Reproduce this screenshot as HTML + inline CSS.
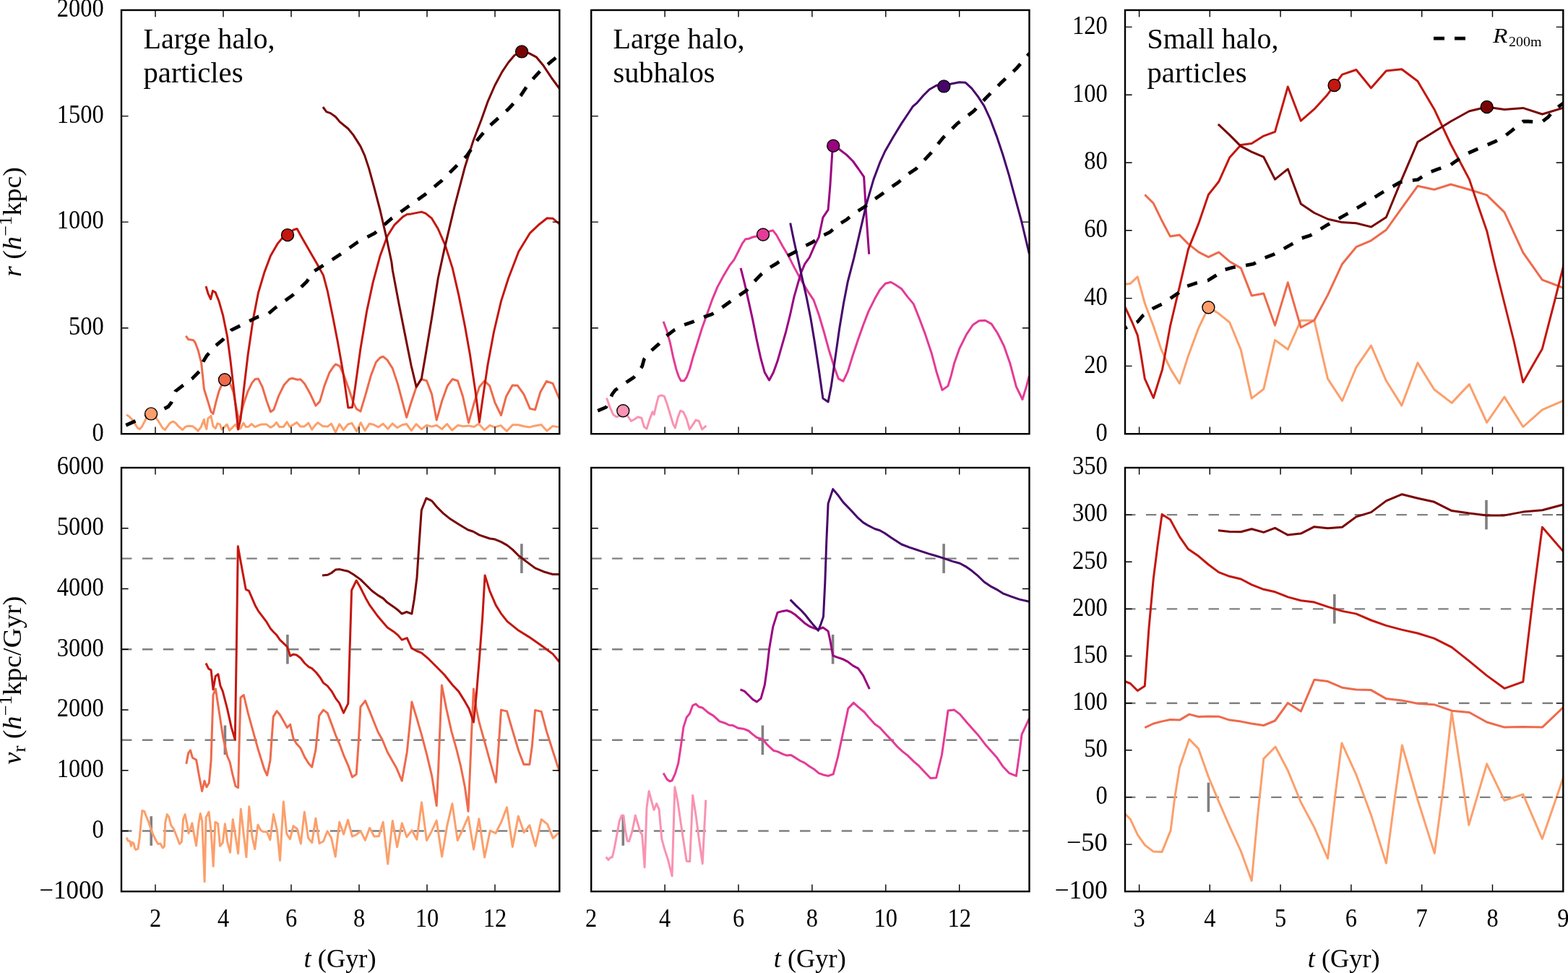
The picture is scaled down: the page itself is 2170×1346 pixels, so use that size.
<!DOCTYPE html><html><head><meta charset="utf-8"><title>orbits</title><style>html,body{margin:0;padding:0;background:#fff}svg{display:block}</style></head><body><svg width="2170" height="1346" viewBox="0 0 2170 1346">
<rect width="2170" height="1346" fill="#fff"/>
<clipPath id="c0"><rect x="168.0" y="14.0" width="606.3" height="586.2"/></clipPath>
<clipPath id="c1"><rect x="818.2" y="14.0" width="606.3" height="586.2"/></clipPath>
<clipPath id="c2"><rect x="1557.0" y="14.0" width="606.3" height="586.2"/></clipPath>
<clipPath id="c3"><rect x="168.0" y="647.0" width="606.3" height="586.2"/></clipPath>
<clipPath id="c4"><rect x="818.2" y="647.0" width="606.3" height="586.2"/></clipPath>
<clipPath id="c5"><rect x="1557.0" y="647.0" width="606.3" height="586.2"/></clipPath>
<path d="M168.0 1149.5H774.3" stroke="#808080" stroke-width="2.4" stroke-dasharray="14.44 14.44" fill="none"/>
<path d="M818.2 1149.5H1424.5" stroke="#808080" stroke-width="2.4" stroke-dasharray="14.44 14.44" fill="none"/>
<path d="M168.0 1023.8H774.3" stroke="#808080" stroke-width="2.4" stroke-dasharray="14.44 14.44" fill="none"/>
<path d="M818.2 1023.8H1424.5" stroke="#808080" stroke-width="2.4" stroke-dasharray="14.44 14.44" fill="none"/>
<path d="M168.0 898.2H774.3" stroke="#808080" stroke-width="2.4" stroke-dasharray="14.44 14.44" fill="none"/>
<path d="M818.2 898.2H1424.5" stroke="#808080" stroke-width="2.4" stroke-dasharray="14.44 14.44" fill="none"/>
<path d="M168.0 772.6H774.3" stroke="#808080" stroke-width="2.4" stroke-dasharray="14.44 14.44" fill="none"/>
<path d="M818.2 772.6H1424.5" stroke="#808080" stroke-width="2.4" stroke-dasharray="14.44 14.44" fill="none"/>
<path d="M1557.0 1102.9H2163.3" stroke="#808080" stroke-width="2.4" stroke-dasharray="14.44 14.44" fill="none"/>
<path d="M1557.0 972.7H2163.3" stroke="#808080" stroke-width="2.4" stroke-dasharray="14.44 14.44" fill="none"/>
<path d="M1557.0 842.4H2163.3" stroke="#808080" stroke-width="2.4" stroke-dasharray="14.44 14.44" fill="none"/>
<path d="M1557.0 712.1H2163.3" stroke="#808080" stroke-width="2.4" stroke-dasharray="14.44 14.44" fill="none"/>
<path d="M209.2 1129.2V1169.8" stroke="#808080" stroke-width="3.6" fill="none"/>
<path d="M311.4 1003.5V1044.1" stroke="#808080" stroke-width="3.6" fill="none"/>
<path d="M397.9 877.9V918.5" stroke="#808080" stroke-width="3.6" fill="none"/>
<path d="M721.9 752.3V792.9" stroke="#808080" stroke-width="3.6" fill="none"/>
<path d="M862.3 1129.2V1169.8" stroke="#808080" stroke-width="3.6" fill="none"/>
<path d="M1055.4 1003.5V1044.1" stroke="#808080" stroke-width="3.6" fill="none"/>
<path d="M1152.6 877.9V918.5" stroke="#808080" stroke-width="3.6" fill="none"/>
<path d="M1306.1 752.3V792.9" stroke="#808080" stroke-width="3.6" fill="none"/>
<path d="M1672.4 1082.6V1123.2" stroke="#808080" stroke-width="3.6" fill="none"/>
<path d="M1846.8 822.1V862.7" stroke="#808080" stroke-width="3.6" fill="none"/>
<path d="M2057.0 691.8V732.4" stroke="#808080" stroke-width="3.6" fill="none"/>
<path clip-path="url(#c0)" d="M174.9 573.7L178.7 576.1L182.8 580.2L187.0 586.5L190.4 592.0L193.5 593.6L196.2 590.6L200.1 583.0L203.5 576.8L209.1 572.4L215.3 576.8L219.4 583.0L225.0 592.0L228.4 594.7L231.2 590.6L235.3 585.1L239.5 583.0L242.9 585.1L247.1 589.9L252.6 594.5L256.8 590.3L260.9 589.2L266.5 589.6L270.6 592.7L274.1 596.1L278.2 590.6L282.4 580.2L283.3 586.5L285.8 593.6L287.9 578.8L292.0 575.4L294.8 589.2L298.2 592.7L301.0 585.8L304.5 587.1L306.8 594.1L310.7 590.6L314.1 587.1L317.6 595.4L321.1 592.0L325.9 587.1L329.4 593.4L332.8 592.7L337.0 585.1L340.4 590.6L343.9 590.3L348.0 586.5L352.9 590.6L359.1 587.8L363.2 586.9L368.8 587.1L374.3 591.3L378.4 589.2L382.6 584.4L386.7 590.6L392.3 590.6L397.1 583.7L401.2 590.6L405.4 587.8L410.9 584.4L415.8 589.9L421.3 589.9L426.8 585.1L431.7 594.1L436.5 587.8L440.0 584.7L446.3 589.4L453.3 590.1L458.5 586.2L464.3 598.0L469.8 586.7L475.3 594.8L481.5 587.0L487.0 585.4L493.6 596.7L499.2 584.7L505.0 595.6L511.3 586.2L516.8 587.3L523.8 590.9L530.1 586.2L536.8 593.3L543.1 585.9L549.7 591.7L556.7 587.8L562.5 586.5L569.3 595.6L576.0 586.7L583.4 593.6L590.4 588.3L597.5 590.1L604.2 588.3L611.6 593.6L618.6 586.5L625.7 595.2L633.5 588.3L641.3 589.8L648.4 588.9L655.9 590.5L662.5 586.2L670.3 594.8L677.8 588.3L684.4 590.9L693.0 588.6L701.3 596.4L709.5 587.8L717.3 587.8L725.2 589.8L733.0 590.9L740.8 588.9L749.0 587.5L756.8 596.1L765.1 589.4L772.9 590.9" fill="none" stroke="#fc9f6b" stroke-width="3.0" stroke-linejoin="round"/>
<path clip-path="url(#c0)" d="M257.3 464.7L260.7 469.6L267.3 470.4L270.1 473.8L274.4 485.3L278.7 502.5L282.4 538.2L287.3 553.9L292.1 569.7L295.0 572.5L298.7 556.8L303.0 541.1L307.3 531.1L311.0 525.3L318.7 531.1L323.0 542.5L327.3 565.4L331.0 582.5L337.3 558.2L343.1 541.1L348.8 529.6L353.1 524.5L357.4 523.9L363.1 535.3L368.8 553.9L374.5 569.7L378.8 566.8L386.0 546.8L393.1 532.5L400.3 524.5L404.6 523.3L411.7 525.3L416.0 524.8L421.7 531.1L428.9 543.9L436.9 561.1L442.6 555.4L448.9 533.9L456.0 515.3L461.8 506.7L464.6 503.9L470.3 506.7L476.1 519.6L483.2 539.6L488.9 556.8L493.2 565.4L498.9 569.1L506.1 545.4L513.3 519.6L520.4 501.0L526.1 494.7L530.4 493.3L536.1 498.2L543.3 509.6L550.4 531.1L557.6 558.2L562.7 577.4L569.0 556.8L576.2 535.3L583.3 524.5L590.5 526.8L597.6 545.4L604.2 581.1L611.9 553.9L619.1 533.9L626.2 524.5L633.4 526.8L640.5 548.2L648.5 584.8L656.3 556.8L663.4 535.3L670.6 526.8L677.7 533.9L684.9 556.8L693.5 574.5L700.6 548.2L709.2 533.1L716.3 533.3L724.9 545.4L733.5 565.4L740.6 566.8L747.8 542.5L756.4 527.3L765.0 530.5L774.4 552.5" fill="none" stroke="#ee6a4c" stroke-width="3.0" stroke-linejoin="round"/>
<path clip-path="url(#c0)" d="M285.0 396.0L287.9 405.8L291.6 413.8L294.4 402.3L298.2 404.6L303.0 416.6L308.7 436.7L314.5 465.3L318.7 496.7L323.0 533.9L326.8 568.2L329.6 594.0L333.0 579.7L337.3 539.6L343.1 491.0L350.2 442.4L357.4 405.2L365.9 376.6L374.5 353.7L384.5 336.6L393.1 326.5L398.0 325.1L406.0 318.0L411.1 316.5L417.4 328.0L428.9 348.0L438.9 365.2L447.5 380.9L453.2 402.3L460.3 436.7L467.5 473.8L474.6 513.9L481.8 563.9L487.5 563.4L491.8 533.9L498.9 482.4L507.5 430.9L516.1 390.9L526.1 353.7L536.1 326.5L546.1 310.8L557.6 299.9L563.3 296.5L569.0 295.9L583.3 293.1L589.0 295.1L597.6 302.2L606.2 316.5L616.2 339.4L626.2 370.9L634.8 408.1L643.4 451.0L650.5 491.0L657.7 539.6L663.4 584.0L667.7 553.9L674.9 505.3L683.4 459.5L693.5 416.6L703.5 385.2L717.8 348.0L733.5 322.3L746.4 310.2L757.2 301.7L765.0 302.2L774.4 310.2" fill="none" stroke="#c4170f" stroke-width="3.0" stroke-linejoin="round"/>
<path clip-path="url(#c0)" d="M446.9 148.0L451.8 154.6L457.5 156.6L464.6 161.7L470.3 168.6L481.8 178.0L488.9 186.6L498.9 202.4L504.7 215.2L510.4 232.4L517.5 258.1L526.1 291.0L534.7 328.2L541.9 362.5L543.3 373.7L551.9 419.5L560.4 462.4L569.0 505.3L576.2 535.3L583.3 523.9L589.0 491.0L597.6 439.5L606.2 385.2L614.8 345.4L629.1 285.3L643.4 231.0L654.8 195.2L666.3 165.2L674.9 140.9L684.9 118.0L694.9 99.4L703.5 86.5L712.0 76.5L722.1 71.4L732.1 73.6L742.1 78.8L752.1 90.8L763.5 108.0L774.4 122.8" fill="none" stroke="#7a0404" stroke-width="3.0" stroke-linejoin="round"/>
<path clip-path="url(#c0)" d="M174.3 588.3L187.2 582.5L209.2 572.5L227.2 565.4L232.9 562.5L237.2 556.8L242.9 541.1L253.0 533.3L265.8 523.9L275.8 513.9L281.6 499.6L285.9 492.4L298.7 478.1L308.7 469.6L320.2 456.7L331.6 451.0L357.4 438.1L371.7 433.8L381.7 425.2L405.4 408.1L416.0 398.0L424.6 389.5L434.6 375.2L446.0 368.0L470.3 352.3L494.7 335.1L519.0 322.3L541.9 302.2L564.7 285.9L589.0 268.5L611.9 249.3L632.0 229.3L646.3 215.2L660.6 193.8L674.9 176.6L703.5 150.9L720.6 132.3L732.1 115.1L749.2 96.5L769.2 79.9" fill="none" stroke="#000" stroke-width="4.8" stroke-linejoin="round" stroke-dasharray="14.5 14.5" stroke-dashoffset="0"/>
<path clip-path="url(#c1)" d="M839.5 550.5L844.3 563.9L848.6 573.4L852.9 576.8L857.2 575.4L862.3 567.4L868.6 575.4L873.5 582.5L878.6 579.7L882.9 576.8L887.8 578.3L891.5 590.5L895.0 593.1L899.2 579.7L903.0 569.7L905.2 573.4L908.7 558.2L911.5 548.2L915.3 546.8L919.3 548.2L923.0 558.2L927.3 572.5L931.6 586.8L934.4 592.0L937.9 578.3L941.6 568.2L945.9 570.2L950.2 579.7L954.4 594.0L958.7 587.7L963.0 581.1L967.3 582.5L971.6 594.0L977.3 588.8" fill="none" stroke="#f993b2" stroke-width="3.0" stroke-linejoin="round"/>
<path clip-path="url(#c1)" d="M918.1 444.7L923.0 458.1L927.3 473.8L931.6 493.9L935.9 511.0L939.3 521.0L942.4 526.8L946.7 526.8L950.2 521.9L954.4 511.0L958.7 495.3L964.5 476.7L971.6 453.8L978.8 433.8L985.9 413.8L993.1 396.6L1001.6 380.9L1010.2 366.6L1015.9 359.4L1021.7 348.0L1027.4 336.6L1031.7 330.8L1036.0 330.3L1041.7 328.0L1048.8 326.5L1056.0 324.5L1064.6 320.0L1069.7 318.8L1074.6 325.1L1083.2 340.8L1091.7 355.1L1098.9 369.4L1107.5 385.2L1117.5 402.3L1126.1 415.2L1133.2 435.2L1140.4 459.5L1147.5 485.3L1154.7 508.2L1160.4 523.9L1167.0 527.3L1173.3 513.9L1180.4 491.0L1187.6 469.6L1194.7 449.5L1201.9 430.9L1210.4 413.8L1217.6 400.9L1225.3 392.3L1232.8 390.3L1239.0 393.8L1247.6 399.5L1256.2 410.9L1264.2 420.4L1271.9 439.5L1280.5 462.4L1289.1 488.2L1296.3 515.3L1304.0 539.6L1312.0 533.9L1316.3 519.6L1320.6 502.5L1327.7 482.4L1337.7 462.4L1346.3 449.5L1354.9 443.8L1363.5 443.2L1372.1 448.1L1380.6 461.0L1389.2 478.1L1397.8 502.5L1406.4 534.8L1415.0 552.5L1420.7 533.9L1424.4 519.6" fill="none" stroke="#e43b97" stroke-width="3.0" stroke-linejoin="round"/>
<path clip-path="url(#c1)" d="M1025.1 370.9L1030.2 390.9L1036.0 416.6L1041.7 442.4L1047.4 471.0L1053.1 496.7L1058.3 515.3L1064.6 525.9L1070.3 515.3L1076.0 499.6L1081.7 479.6L1087.5 459.5L1093.2 436.7L1098.9 410.9L1104.6 390.9L1108.9 376.6L1113.8 365.2L1120.3 356.0L1127.5 339.4L1133.2 328.0L1138.9 300.8L1146.1 290.2L1148.9 256.5L1151.8 210.9L1153.2 201.8L1161.8 206.7L1171.8 214.4L1180.4 223.0L1187.6 233.0L1195.6 244.7L1196.7 262.4L1198.4 291.0L1200.4 319.6L1202.7 351.7" fill="none" stroke="#9b027f" stroke-width="3.0" stroke-linejoin="round"/>
<path clip-path="url(#c1)" d="M1093.7 308.5L1098.9 333.7L1104.6 359.4L1110.3 385.2L1116.1 410.9L1121.8 439.5L1127.5 473.8L1133.2 511.0L1138.9 551.1L1146.1 555.9L1150.4 533.9L1156.1 493.9L1161.8 453.8L1167.5 419.5L1173.3 389.5L1181.8 356.8L1190.4 319.6L1199.0 282.5L1209.0 248.1L1217.6 225.2L1224.7 209.5L1236.2 189.5L1247.6 170.9L1256.2 158.0L1263.4 147.2L1269.1 142.3L1277.7 132.3L1286.2 123.7L1296.3 118.0L1306.3 119.4L1316.3 116.0L1327.7 113.7L1336.3 114.3L1344.9 122.3L1353.5 133.7L1362.0 146.6L1370.6 165.2L1379.2 188.1L1387.8 213.8L1396.4 242.4L1404.9 273.9L1413.5 305.3L1424.4 351.1" fill="none" stroke="#47056b" stroke-width="3.0" stroke-linejoin="round"/>
<path clip-path="url(#c1)" d="M827.2 568.2L838.6 563.4L843.8 553.9L847.2 545.4L851.5 539.6L865.8 529.6L877.2 521.9L884.9 512.5L888.7 506.7L891.5 496.7L901.0 485.3L911.5 476.1L922.4 464.7L933.0 456.7L946.7 449.5L958.7 445.2L973.0 439.0L985.1 434.7L997.4 426.7L1007.4 419.5L1021.7 409.5L1032.5 402.3L1043.1 390.3L1052.6 380.3L1064.0 370.9L1074.6 364.6L1087.5 355.1L1098.9 349.4L1113.2 340.8L1124.6 335.1L1137.5 326.5L1148.9 320.8L1160.4 310.8L1171.8 303.7L1184.7 293.6L1196.1 286.5L1209.0 276.5L1220.5 268.5L1232.8 259.3L1243.3 252.2L1254.8 242.2L1267.7 233.6L1287.7 212.4L1304.8 190.9L1324.9 170.9L1347.7 153.7L1364.9 135.1L1384.9 115.1L1406.4 95.1L1425.0 73.6" fill="none" stroke="#000" stroke-width="4.8" stroke-linejoin="round" stroke-dasharray="14.5 14.5" stroke-dashoffset="0"/>
<path clip-path="url(#c2)" d="M1557.2 393.2L1564.3 392.3L1574.3 382.9L1584.3 419.5L1596.3 451.0L1607.2 483.9L1619.5 509.6L1632.4 530.5L1644.4 492.4L1658.7 453.8L1672.4 425.2L1686.7 433.8L1701.6 445.8L1717.3 483.9L1732.2 551.1L1748.8 538.2L1764.5 470.4L1782.3 483.3L1800.3 443.2L1818.9 443.2L1837.5 523.9L1857.5 554.5L1876.9 508.2L1897.5 478.1L1918.4 526.8L1939.9 561.1L1961.9 501.9L1984.8 538.8L2009.1 557.4L2033.4 531.6L2057.7 584.5L2082.0 549.1L2107.8 590.5L2134.4 566.8L2164.4 553.9" fill="none" stroke="#fc9f6b" stroke-width="3.0" stroke-linejoin="round"/>
<path clip-path="url(#c2)" d="M1584.3 269.3L1596.3 281.3L1607.2 303.7L1619.5 327.1L1632.4 325.1L1644.4 337.4L1658.7 348.6L1672.4 355.7L1686.7 348.9L1701.6 361.7L1717.3 370.9L1732.2 408.9L1748.8 406.1L1764.5 450.1L1782.3 390.9L1800.3 453.0L1818.9 443.0L1837.5 408.1L1857.5 365.2L1876.9 341.7L1897.5 332.8L1918.4 318.0L1939.9 287.9L1961.9 257.3L1984.8 262.2L2007.7 255.0L2033.4 262.2L2057.7 269.9L2082.0 293.6L2107.8 349.4L2134.4 387.2L2164.4 398.6" fill="none" stroke="#ee6a4c" stroke-width="3.0" stroke-linejoin="round"/>
<path clip-path="url(#c2)" d="M1557.2 425.2L1567.2 446.7L1574.3 463.8L1578.6 488.2L1584.3 523.9L1596.3 550.5L1608.6 511.0L1619.5 451.0L1632.4 396.6L1644.4 345.1L1658.7 309.4L1672.4 269.3L1686.7 251.3L1701.6 218.1L1717.3 200.4L1732.2 198.6L1748.8 188.1L1764.5 182.3L1782.3 120.0L1800.3 167.2L1818.9 150.9L1836.0 132.3L1846.6 118.0L1857.5 103.1L1876.9 96.5L1897.5 121.7L1918.4 98.0L1939.9 95.7L1961.9 112.3L1984.8 150.9L2007.7 199.5L2033.4 248.1L2046.3 286.5L2057.7 319.4L2069.1 368.0L2082.0 419.5L2094.9 471.0L2107.8 528.8L2134.4 482.4L2150.7 419.5L2164.4 365.2" fill="none" stroke="#c4170f" stroke-width="3.0" stroke-linejoin="round"/>
<path clip-path="url(#c2)" d="M1685.9 171.8L1701.6 186.6L1717.3 202.4L1732.2 210.1L1748.8 217.2L1764.5 248.1L1782.3 233.8L1800.3 281.9L1818.9 294.5L1837.5 303.0L1857.5 307.6L1876.9 308.8L1897.5 313.9L1918.4 300.5L1939.9 248.1L1961.9 196.6L1984.8 182.3L2007.7 168.0L2033.4 153.7L2057.7 148.0L2082.0 151.4L2107.8 149.4L2134.4 158.0L2164.4 148.9" fill="none" stroke="#7a0404" stroke-width="3.0" stroke-linejoin="round"/>
<path clip-path="url(#c2)" d="M1557.2 453.8L1574.3 445.2L1581.5 436.7L1595.8 426.7L1608.6 420.4L1630.1 405.8L1643.0 395.8L1655.8 391.5L1671.6 388.0L1683.0 380.9L1694.4 373.2L1705.9 370.0L1718.8 368.0L1734.5 365.2L1750.2 356.6L1763.1 351.7L1787.4 338.0L1801.7 329.4L1813.2 325.7L1837.5 310.8L1863.2 296.5L1887.5 282.2L1911.8 267.0L1937.6 252.2L1950.4 249.9L1961.9 248.7L1976.2 239.3L1989.1 234.2L2007.7 227.9L2013.4 223.9L2030.5 212.4L2043.4 206.7L2069.1 195.8L2082.0 188.6L2092.0 180.9L2107.8 168.0L2114.9 168.0L2133.5 168.9L2142.1 162.3L2152.1 150.9L2164.4 142.3" fill="none" stroke="#000" stroke-width="4.8" stroke-linejoin="round" stroke-dasharray="14.5 14.5" stroke-dashoffset="11.5"/>
<path clip-path="url(#c3)" d="M175.2 1158.6L177.0 1163.0L179.9 1163.7L181.4 1170.4L182.9 1165.2L185.1 1166.7L186.5 1173.3L188.0 1175.5L191.0 1174.1L193.2 1159.3L195.4 1134.2L196.9 1121.3L199.8 1122.4L202.0 1128.3L205.7 1137.2L209.4 1148.2L212.4 1155.6L216.0 1163.0L218.7 1167.4L221.9 1167.1L225.3 1173.0L227.5 1170.8L228.6 1138.7L231.2 1126.6L233.7 1129.8L236.7 1141.6L240.4 1146.8L244.8 1157.8L248.5 1167.4L251.4 1164.5L253.6 1132.8L256.1 1126.6L258.8 1140.1L261.0 1152.7L263.2 1147.5L265.9 1138.7L268.4 1153.4L271.6 1169.9L275.0 1138.7L277.2 1125.4L279.7 1135.7L281.2 1172.6L283.1 1219.8L285.1 1130.6L289.0 1123.2L292.0 1149.0L295.2 1198.4L297.9 1137.2L301.6 1139.4L304.5 1170.4L308.2 1165.9L311.4 1139.8L314.8 1165.2L318.5 1179.2L322.2 1133.5L325.9 1156.4L329.6 1180.7L333.3 1119.2L337.0 1151.9L340.9 1185.6L344.8 1115.8L348.8 1156.4L352.7 1174.5L356.9 1140.9L360.6 1148.2L364.2 1150.5L369.4 1150.8L373.8 1161.8L378.5 1126.6L383.4 1148.2L387.5 1190.3L392.3 1108.9L396.7 1153.4L401.4 1160.8L406.0 1142.6L411.4 1146.8L416.3 1167.1L421.3 1123.2L426.6 1159.3L431.8 1165.6L436.9 1132.0L442.0 1166.7L447.6 1163.7L453.0 1149.7L458.6 1159.3L464.2 1185.1L469.7 1137.2L475.6 1154.1L481.5 1134.2L487.4 1157.1L492.9 1154.9L499.1 1149.7L505.4 1162.3L511.6 1145.3L517.9 1157.1L524.3 1156.7L530.2 1137.2L536.7 1195.0L543.3 1135.4L549.6 1171.8L556.3 1138.7L562.9 1157.8L570.0 1148.7L576.9 1161.2L583.5 1109.9L590.5 1162.6L597.1 1150.5L604.2 1135.0L611.6 1185.1L618.9 1141.6L625.9 1111.8L633.2 1162.6L640.6 1146.8L648.0 1129.8L655.5 1175.1L662.9 1132.8L670.6 1185.9L678.4 1149.0L686.0 1152.7L693.7 1137.2L701.5 1116.8L709.3 1171.4L717.3 1129.1L725.1 1151.6L732.9 1141.6L741.0 1170.4L749.2 1133.5L757.6 1140.1L765.4 1159.6L773.5 1151.9" fill="none" stroke="#fc9f6b" stroke-width="3.0" stroke-linejoin="round"/>
<path clip-path="url(#c3)" d="M257.8 1056.8L260.7 1041.6L263.5 1037.9L266.4 1048.2L271.6 1051.1L275.8 1074.5L279.6 1094.5L283.0 1080.2L285.9 1088.8L289.3 1083.1L292.1 1051.6L295.0 961.5L298.4 953.0L303.0 983.0L308.7 1020.2L314.5 1045.9L318.2 1054.5L321.6 1070.2L325.9 1087.4L329.6 1089.7L331.0 1031.6L333.0 965.0L337.3 961.5L343.1 985.9L350.2 1011.6L357.4 1037.3L365.9 1064.5L369.7 1072.5L374.0 1051.6L378.2 991.6L383.1 983.6L387.4 988.7L393.1 998.7L397.4 1006.4L401.7 1002.2L406.0 1021.6L410.3 1028.8L416.0 1035.1L421.7 1047.4L427.4 1056.5L431.7 1061.1L436.9 1037.3L441.7 990.1L447.5 982.1L453.2 986.4L458.9 1001.6L464.6 1017.3L470.3 1030.2L476.1 1045.9L481.8 1058.8L487.5 1075.1L493.2 1071.1L496.1 1028.8L498.9 977.8L505.5 969.3L511.8 984.4L517.5 998.7L523.3 1013.0L529.0 1023.0L536.1 1040.2L543.3 1053.1L549.0 1063.1L556.2 1080.2L563.3 1040.2L567.6 997.3L569.9 971.0L576.2 991.6L583.3 1015.9L590.5 1043.1L597.6 1073.1L604.2 1114.6L606.8 1060.2L609.1 1003.0L611.4 948.1L617.7 980.1L624.8 1011.6L632.0 1037.3L637.7 1060.2L643.4 1088.8L648.0 1122.3L650.5 1065.9L653.1 1003.0L655.4 953.0L659.1 980.1L663.4 1000.2L670.6 1025.9L677.7 1051.6L686.3 1082.2L689.7 1037.3L693.5 982.1L701.5 983.9L709.2 1010.2L717.8 1038.8L724.9 1057.4L732.9 1057.4L736.4 1031.6L740.6 982.4L749.2 984.4L756.4 1011.6L765.0 1038.8L774.4 1067.9" fill="none" stroke="#ee6a4c" stroke-width="3.0" stroke-linejoin="round"/>
<path clip-path="url(#c3)" d="M285.0 917.5L288.7 925.2L292.1 926.9L295.0 953.8L298.2 935.5L301.9 932.6L305.0 948.9L308.2 956.1L314.5 980.4L320.2 1006.1L325.3 1023.3L327.3 897.4L329.3 755.8L334.5 784.4L340.2 815.3L344.5 817.3L353.1 837.4L357.4 845.1L368.8 860.2L374.5 869.7L378.8 874.5L383.1 878.8L387.4 885.1L397.4 894.6L401.7 907.4L406.0 905.2L410.3 906.0L416.0 910.3L421.7 917.5L427.4 922.6L431.7 924.6L437.5 930.3L443.2 937.5L447.5 944.6L453.2 948.9L458.9 956.1L464.6 966.1L469.5 972.4L475.5 986.1L481.8 973.2L484.1 897.4L486.6 816.5L493.2 803.0L498.9 813.0L506.1 827.4L511.8 837.4L523.3 853.1L536.1 868.0L544.7 873.7L550.4 878.3L556.2 885.1L563.3 882.6L569.6 896.6L576.2 900.3L583.3 903.2L591.9 910.3L603.4 921.7L614.8 933.2L626.2 947.5L634.8 956.6L643.4 970.4L649.1 980.4L655.4 999.0L659.1 963.2L663.4 911.7L667.7 854.5L671.1 795.9L677.7 817.3L686.3 837.4L693.5 848.8L702.0 859.7L717.8 872.3L732.1 881.1L749.2 893.1L765.0 904.6L774.4 916.0" fill="none" stroke="#c4170f" stroke-width="3.0" stroke-linejoin="round"/>
<path clip-path="url(#c3)" d="M446.0 795.9L453.2 795.3L458.9 792.5L464.6 787.9L470.3 787.6L476.1 789.0L481.8 790.2L488.9 794.5L498.9 801.6L506.1 808.8L514.7 817.3L523.3 823.6L530.4 827.9L536.1 833.6L544.7 839.4L550.4 843.7L556.2 849.1L562.7 846.5L569.9 849.1L573.3 828.8L577.0 798.7L579.9 754.4L583.3 705.8L589.9 689.2L597.6 692.9L604.8 701.5L613.4 710.1L623.4 718.1L634.8 725.2L647.7 733.0L654.8 735.2L663.4 740.1L677.7 745.0L684.9 746.1L693.5 749.6L702.0 754.4L709.2 760.1L717.8 768.7L727.8 776.4L740.6 785.9L752.1 790.7L765.0 794.5L774.4 794.5" fill="none" stroke="#7a0404" stroke-width="3.0" stroke-linejoin="round"/>
<path clip-path="url(#c4)" d="M838.6 1185.5L842.0 1189.5L844.9 1186.1L847.2 1186.1L850.0 1174.6L853.5 1156.0L857.2 1136.0L860.1 1128.3L862.9 1128.0L865.2 1147.5L868.1 1163.2L870.6 1163.8L874.4 1151.8L877.2 1138.9L879.2 1128.0L882.9 1140.3L885.8 1150.3L888.7 1154.6L892.1 1199.8L895.0 1117.4L898.1 1094.5L901.5 1107.4L905.0 1120.3L908.7 1111.7L912.1 1119.7L915.8 1160.3L920.1 1176.1L924.4 1188.9L930.1 1211.8L933.9 1088.8L937.9 1108.8L941.6 1134.6L945.9 1163.2L950.2 1191.2L954.7 1191.8L958.7 1100.3L963.0 1127.4L967.3 1160.3L972.2 1194.7L976.8 1106.6" fill="none" stroke="#f993b2" stroke-width="3.0" stroke-linejoin="round"/>
<path clip-path="url(#c4)" d="M918.1 1069.4L923.0 1078.0L926.7 1080.8L930.1 1079.7L934.4 1070.2L938.7 1055.9L942.4 1031.6L945.9 1005.9L950.2 992.4L954.4 987.3L958.7 975.8L963.0 973.8L967.3 977.8L972.5 979.3L980.2 985.9L987.3 990.1L995.9 997.9L1003.1 1000.2L1008.8 1003.0L1014.5 1003.6L1021.7 1007.3L1028.8 1008.2L1036.0 1011.0L1041.7 1015.9L1047.4 1020.2L1056.0 1023.0L1061.7 1030.2L1070.3 1038.2L1076.0 1039.6L1083.2 1043.1L1088.9 1045.1L1094.6 1044.5L1100.3 1047.9L1107.5 1052.5L1113.2 1055.1L1120.3 1060.2L1126.1 1063.7L1133.2 1069.7L1138.9 1071.7L1146.1 1073.4L1153.2 1070.8L1159.5 1047.4L1164.7 1023.0L1169.0 1003.0L1173.8 980.1L1181.3 972.1L1187.6 977.8L1196.1 985.0L1203.3 993.6L1210.4 1001.6L1217.6 1006.4L1226.2 1015.9L1234.8 1025.0L1241.9 1033.0L1249.1 1039.6L1256.2 1045.1L1264.8 1053.6L1271.9 1059.7L1279.1 1067.4L1287.7 1076.5L1295.7 1076.0L1303.4 1044.5L1307.7 1014.5L1312.0 983.0L1320.6 982.1L1328.3 987.9L1339.2 1000.7L1353.5 1016.7L1364.9 1031.6L1379.2 1047.4L1387.8 1060.2L1396.9 1069.7L1406.4 1073.4L1410.7 1043.1L1414.1 1015.9L1424.4 993.9" fill="none" stroke="#e43b97" stroke-width="3.0" stroke-linejoin="round"/>
<path clip-path="url(#c4)" d="M1024.5 953.8L1030.2 956.1L1036.0 961.8L1041.7 967.5L1047.4 970.9L1053.1 966.1L1058.3 947.5L1061.7 923.2L1064.6 897.4L1069.7 867.4L1076.0 847.4L1083.2 845.4L1088.9 844.5L1094.6 846.5L1100.3 850.2L1107.5 856.5L1113.2 861.7L1120.3 866.5L1126.1 868.8L1131.8 870.8L1138.9 868.0L1146.1 873.1L1148.9 886.0L1152.7 906.9L1157.5 908.9L1166.1 911.7L1173.3 915.4L1180.4 920.9L1187.6 924.6L1194.7 934.6L1203.3 953.2" fill="none" stroke="#9b027f" stroke-width="3.0" stroke-linejoin="round"/>
<path clip-path="url(#c4)" d="M1093.7 829.6L1101.8 837.9L1108.9 844.5L1114.6 850.8L1120.3 858.0L1126.1 865.1L1132.4 872.3L1136.1 863.1L1139.5 853.1L1141.8 805.9L1143.8 748.7L1146.1 696.6L1152.7 676.6L1160.4 685.8L1167.0 694.9L1177.6 705.8L1187.6 716.7L1194.7 722.9L1201.9 727.2L1210.4 731.5L1217.6 733.8L1224.7 737.8L1233.3 743.8L1247.6 753.0L1259.1 757.3L1273.4 762.1L1284.8 765.9L1296.3 769.3L1306.3 772.4L1317.7 776.4L1328.3 779.3L1336.3 783.6L1344.9 789.6L1353.5 796.7L1362.0 805.0L1370.6 810.8L1379.2 815.3L1387.8 820.8L1399.2 825.1L1410.7 829.1L1424.4 832.2" fill="none" stroke="#47056b" stroke-width="3.0" stroke-linejoin="round"/>
<path clip-path="url(#c5)" d="M1557.2 1126.0L1564.3 1133.2L1574.3 1154.6L1584.3 1168.9L1596.3 1178.1L1608.1 1178.4L1620.1 1148.9L1625.8 1103.1L1632.4 1061.7L1645.8 1022.5L1658.7 1035.9L1672.4 1074.5L1686.7 1108.8L1701.6 1143.2L1717.3 1177.5L1732.2 1218.4L1740.2 1131.7L1748.8 1049.6L1765.1 1033.0L1782.3 1065.9L1800.3 1109.7L1818.9 1144.6L1837.5 1187.5L1847.5 1103.1L1856.9 1027.9L1876.9 1071.7L1897.5 1127.4L1918.4 1194.1L1930.4 1103.1L1940.4 1031.0L1961.9 1106.0L1985.3 1180.4L1997.6 1088.8L2009.1 985.3L2022.0 1068.8L2032.8 1141.2L2057.7 1056.8L2082.0 1107.4L2107.8 1098.8L2134.4 1160.3L2164.4 1073.1" fill="none" stroke="#fc9f6b" stroke-width="3.0" stroke-linejoin="round"/>
<path clip-path="url(#c5)" d="M1584.3 1006.7L1596.3 1001.0L1607.2 998.1L1619.5 995.5L1632.4 996.1L1645.8 988.1L1658.7 991.5L1672.4 991.0L1686.7 991.2L1701.6 996.1L1717.3 998.1L1732.2 1001.0L1748.8 1003.5L1764.5 997.0L1782.3 972.4L1800.3 984.1L1818.9 940.3L1837.5 942.6L1857.5 951.2L1876.9 954.1L1897.5 954.6L1918.4 966.6L1939.9 968.9L1961.9 973.2L1984.8 974.7L2009.1 983.2L2033.4 985.5L2057.7 999.0L2082.0 1006.1L2107.8 1005.5L2134.4 1006.1L2164.4 977.5" fill="none" stroke="#ee6a4c" stroke-width="3.0" stroke-linejoin="round"/>
<path clip-path="url(#c5)" d="M1557.2 942.6L1564.3 945.5L1574.3 955.5L1584.3 948.9L1590.0 868.8L1596.3 800.2L1602.1 754.4L1608.1 711.5L1619.5 718.7L1632.4 742.4L1644.4 759.6L1658.7 769.3L1672.4 781.0L1686.7 791.6L1701.6 797.3L1717.3 801.0L1732.2 808.8L1748.8 815.3L1764.5 818.8L1782.3 825.9L1800.3 830.8L1818.9 833.1L1837.5 839.4L1857.5 845.4L1876.9 849.1L1897.5 858.0L1918.4 865.4L1939.9 871.1L1961.9 876.0L1984.8 883.1L2009.1 895.4L2033.4 914.6L2057.7 934.6L2082.0 952.3L2107.8 943.2L2114.9 883.1L2122.1 823.1L2129.2 768.7L2134.4 729.2L2164.4 763.9" fill="none" stroke="#c4170f" stroke-width="3.0" stroke-linejoin="round"/>
<path clip-path="url(#c5)" d="M1685.9 733.8L1701.6 735.5L1717.3 735.8L1732.2 731.8L1748.8 736.4L1764.5 730.4L1782.3 740.1L1800.3 738.1L1818.9 728.7L1837.5 730.7L1857.5 729.2L1876.9 714.9L1897.5 708.6L1918.4 692.9L1939.9 683.8L1961.9 689.2L1984.8 694.3L2009.1 706.6L2033.4 710.1L2057.7 712.9L2082.0 712.9L2107.8 708.1L2134.4 705.8L2164.4 697.8" fill="none" stroke="#7a0404" stroke-width="3.0" stroke-linejoin="round"/>
<circle cx="209.1" cy="572.4" r="8.5" fill="#fc9f6b" stroke="#000" stroke-width="1.4"/>
<circle cx="311.0" cy="525.3" r="8.5" fill="#ee6a4c" stroke="#000" stroke-width="1.4"/>
<circle cx="398.0" cy="325.1" r="8.5" fill="#c4170f" stroke="#000" stroke-width="1.4"/>
<circle cx="722.1" cy="71.4" r="8.5" fill="#7a0404" stroke="#000" stroke-width="1.4"/>
<circle cx="862.3" cy="568.2" r="8.5" fill="#f993b2" stroke="#000" stroke-width="1.4"/>
<circle cx="1056.0" cy="324.5" r="8.5" fill="#e43b97" stroke="#000" stroke-width="1.4"/>
<circle cx="1153.2" cy="201.8" r="8.5" fill="#9b027f" stroke="#000" stroke-width="1.4"/>
<circle cx="1306.3" cy="119.4" r="8.5" fill="#47056b" stroke="#000" stroke-width="1.4"/>
<circle cx="1672.4" cy="425.2" r="8.5" fill="#fc9f6b" stroke="#000" stroke-width="1.4"/>
<circle cx="1846.6" cy="118.0" r="8.5" fill="#c4170f" stroke="#000" stroke-width="1.4"/>
<circle cx="2057.7" cy="148.0" r="8.5" fill="#7a0404" stroke="#000" stroke-width="1.4"/>
<path d="M215.0 600.2v-9.6M215.0 14.0v9.6M309.0 600.2v-9.6M309.0 14.0v9.6M403.0 600.2v-9.6M403.0 14.0v9.6M497.0 600.2v-9.6M497.0 14.0v9.6M591.0 600.2v-9.6M591.0 14.0v9.6M685.0 600.2v-9.6M685.0 14.0v9.6M168.0 453.7h9.6M774.3 453.7h-9.6M168.0 307.1h9.6M774.3 307.1h-9.6M168.0 160.6h9.6M774.3 160.6h-9.6" stroke="#000" stroke-width="1.4" fill="none"/>
<rect x="168.0" y="14.0" width="606.3" height="586.2" fill="none" stroke="#000" stroke-width="2.4"/>
<path d="M920.1 600.2v-9.6M920.1 14.0v9.6M1022.0 600.2v-9.6M1022.0 14.0v9.6M1123.9 600.2v-9.6M1123.9 14.0v9.6M1225.8 600.2v-9.6M1225.8 14.0v9.6M1327.7 600.2v-9.6M1327.7 14.0v9.6M818.2 453.7h9.6M1424.5 453.7h-9.6M818.2 307.1h9.6M1424.5 307.1h-9.6M818.2 160.6h9.6M1424.5 160.6h-9.6" stroke="#000" stroke-width="1.4" fill="none"/>
<rect x="818.2" y="14.0" width="606.3" height="586.2" fill="none" stroke="#000" stroke-width="2.4"/>
<path d="M1576.6 600.2v-9.6M1576.6 14.0v9.6M1674.3 600.2v-9.6M1674.3 14.0v9.6M1772.1 600.2v-9.6M1772.1 14.0v9.6M1869.9 600.2v-9.6M1869.9 14.0v9.6M1967.7 600.2v-9.6M1967.7 14.0v9.6M2065.5 600.2v-9.6M2065.5 14.0v9.6M1557.0 506.4h9.6M2163.3 506.4h-9.6M1557.0 412.6h9.6M2163.3 412.6h-9.6M1557.0 318.8h9.6M2163.3 318.8h-9.6M1557.0 225.0h9.6M2163.3 225.0h-9.6M1557.0 131.2h9.6M2163.3 131.2h-9.6M1557.0 37.4h9.6M2163.3 37.4h-9.6" stroke="#000" stroke-width="1.4" fill="none"/>
<rect x="1557.0" y="14.0" width="606.3" height="586.2" fill="none" stroke="#000" stroke-width="2.4"/>
<path d="M215.0 1233.2v-9.6M215.0 647.0v9.6M309.0 1233.2v-9.6M309.0 647.0v9.6M403.0 1233.2v-9.6M403.0 647.0v9.6M497.0 1233.2v-9.6M497.0 647.0v9.6M591.0 1233.2v-9.6M591.0 647.0v9.6M685.0 1233.2v-9.6M685.0 647.0v9.6M168.0 1149.5h9.6M774.3 1149.5h-9.6M168.0 1065.7h9.6M774.3 1065.7h-9.6M168.0 982.0h9.6M774.3 982.0h-9.6M168.0 898.2h9.6M774.3 898.2h-9.6M168.0 814.5h9.6M774.3 814.5h-9.6M168.0 730.7h9.6M774.3 730.7h-9.6" stroke="#000" stroke-width="1.4" fill="none"/>
<rect x="168.0" y="647.0" width="606.3" height="586.2" fill="none" stroke="#000" stroke-width="2.4"/>
<path d="M920.1 1233.2v-9.6M920.1 647.0v9.6M1022.0 1233.2v-9.6M1022.0 647.0v9.6M1123.9 1233.2v-9.6M1123.9 647.0v9.6M1225.8 1233.2v-9.6M1225.8 647.0v9.6M1327.7 1233.2v-9.6M1327.7 647.0v9.6M818.2 1149.5h9.6M1424.5 1149.5h-9.6M818.2 1065.7h9.6M1424.5 1065.7h-9.6M818.2 982.0h9.6M1424.5 982.0h-9.6M818.2 898.2h9.6M1424.5 898.2h-9.6M818.2 814.5h9.6M1424.5 814.5h-9.6M818.2 730.7h9.6M1424.5 730.7h-9.6" stroke="#000" stroke-width="1.4" fill="none"/>
<rect x="818.2" y="647.0" width="606.3" height="586.2" fill="none" stroke="#000" stroke-width="2.4"/>
<path d="M1576.6 1233.2v-9.6M1576.6 647.0v9.6M1674.3 1233.2v-9.6M1674.3 647.0v9.6M1772.1 1233.2v-9.6M1772.1 647.0v9.6M1869.9 1233.2v-9.6M1869.9 647.0v9.6M1967.7 1233.2v-9.6M1967.7 647.0v9.6M2065.5 1233.2v-9.6M2065.5 647.0v9.6M1557.0 1168.1h9.6M2163.3 1168.1h-9.6M1557.0 1102.9h9.6M2163.3 1102.9h-9.6M1557.0 1037.8h9.6M2163.3 1037.8h-9.6M1557.0 972.7h9.6M2163.3 972.7h-9.6M1557.0 907.5h9.6M2163.3 907.5h-9.6M1557.0 842.4h9.6M2163.3 842.4h-9.6M1557.0 777.3h9.6M2163.3 777.3h-9.6M1557.0 712.1h9.6M2163.3 712.1h-9.6" stroke="#000" stroke-width="1.4" fill="none"/>
<rect x="1557.0" y="647.0" width="606.3" height="586.2" fill="none" stroke="#000" stroke-width="2.4"/>
<g font-family="Liberation Serif, serif" fill="#000">
<text x="143.8" y="609.5" font-size="35.5" text-anchor="end" textLength="16.2" lengthAdjust="spacingAndGlyphs" >0</text>
<text x="143.8" y="463.0" font-size="35.5" text-anchor="end" textLength="48.8" lengthAdjust="spacingAndGlyphs" >500</text>
<text x="143.8" y="316.4" font-size="35.5" text-anchor="end" textLength="65.0" lengthAdjust="spacingAndGlyphs" >1000</text>
<text x="143.8" y="169.9" font-size="35.5" text-anchor="end" textLength="65.0" lengthAdjust="spacingAndGlyphs" >1500</text>
<text x="143.8" y="23.3" font-size="35.5" text-anchor="end" textLength="65.0" lengthAdjust="spacingAndGlyphs" >2000</text>
<text x="1532.8" y="609.5" font-size="35.5" text-anchor="end" textLength="16.2" lengthAdjust="spacingAndGlyphs" >0</text>
<text x="1532.8" y="515.7" font-size="35.5" text-anchor="end" textLength="32.5" lengthAdjust="spacingAndGlyphs" >20</text>
<text x="1532.8" y="421.9" font-size="35.5" text-anchor="end" textLength="32.5" lengthAdjust="spacingAndGlyphs" >40</text>
<text x="1532.8" y="328.1" font-size="35.5" text-anchor="end" textLength="32.5" lengthAdjust="spacingAndGlyphs" >60</text>
<text x="1532.8" y="234.3" font-size="35.5" text-anchor="end" textLength="32.5" lengthAdjust="spacingAndGlyphs" >80</text>
<text x="1532.8" y="140.5" font-size="35.5" text-anchor="end" textLength="48.8" lengthAdjust="spacingAndGlyphs" >100</text>
<text x="1532.8" y="46.7" font-size="35.5" text-anchor="end" textLength="48.8" lengthAdjust="spacingAndGlyphs" >120</text>
<text x="143.8" y="1242.5" font-size="35.5" text-anchor="end" textLength="89.5" lengthAdjust="spacingAndGlyphs" >−1000</text>
<text x="143.8" y="1158.8" font-size="35.5" text-anchor="end" textLength="16.2" lengthAdjust="spacingAndGlyphs" >0</text>
<text x="143.8" y="1075.0" font-size="35.5" text-anchor="end" textLength="65.0" lengthAdjust="spacingAndGlyphs" >1000</text>
<text x="143.8" y="991.3" font-size="35.5" text-anchor="end" textLength="65.0" lengthAdjust="spacingAndGlyphs" >2000</text>
<text x="143.8" y="907.5" font-size="35.5" text-anchor="end" textLength="65.0" lengthAdjust="spacingAndGlyphs" >3000</text>
<text x="143.8" y="823.8" font-size="35.5" text-anchor="end" textLength="65.0" lengthAdjust="spacingAndGlyphs" >4000</text>
<text x="143.8" y="740.0" font-size="35.5" text-anchor="end" textLength="65.0" lengthAdjust="spacingAndGlyphs" >5000</text>
<text x="143.8" y="656.3" font-size="35.5" text-anchor="end" textLength="65.0" lengthAdjust="spacingAndGlyphs" >6000</text>
<text x="1532.8" y="1242.5" font-size="35.5" text-anchor="end" textLength="73.2" lengthAdjust="spacingAndGlyphs" >−100</text>
<text x="1532.8" y="1177.4" font-size="35.5" text-anchor="end" textLength="57.0" lengthAdjust="spacingAndGlyphs" >−50</text>
<text x="1532.8" y="1112.2" font-size="35.5" text-anchor="end" textLength="16.2" lengthAdjust="spacingAndGlyphs" >0</text>
<text x="1532.8" y="1047.1" font-size="35.5" text-anchor="end" textLength="32.5" lengthAdjust="spacingAndGlyphs" >50</text>
<text x="1532.8" y="982.0" font-size="35.5" text-anchor="end" textLength="48.8" lengthAdjust="spacingAndGlyphs" >100</text>
<text x="1532.8" y="916.8" font-size="35.5" text-anchor="end" textLength="48.8" lengthAdjust="spacingAndGlyphs" >150</text>
<text x="1532.8" y="851.7" font-size="35.5" text-anchor="end" textLength="48.8" lengthAdjust="spacingAndGlyphs" >200</text>
<text x="1532.8" y="786.6" font-size="35.5" text-anchor="end" textLength="48.8" lengthAdjust="spacingAndGlyphs" >250</text>
<text x="1532.8" y="721.4" font-size="35.5" text-anchor="end" textLength="48.8" lengthAdjust="spacingAndGlyphs" >300</text>
<text x="1532.8" y="656.3" font-size="35.5" text-anchor="end" textLength="48.8" lengthAdjust="spacingAndGlyphs" >350</text>
<text x="215.0" y="1282.4" font-size="35.5" text-anchor="middle" textLength="16.2" lengthAdjust="spacingAndGlyphs" >2</text>
<text x="309.0" y="1282.4" font-size="35.5" text-anchor="middle" textLength="16.2" lengthAdjust="spacingAndGlyphs" >4</text>
<text x="403.0" y="1282.4" font-size="35.5" text-anchor="middle" textLength="16.2" lengthAdjust="spacingAndGlyphs" >6</text>
<text x="497.0" y="1282.4" font-size="35.5" text-anchor="middle" textLength="16.2" lengthAdjust="spacingAndGlyphs" >8</text>
<text x="591.0" y="1282.4" font-size="35.5" text-anchor="middle" textLength="32.5" lengthAdjust="spacingAndGlyphs" >10</text>
<text x="685.0" y="1282.4" font-size="35.5" text-anchor="middle" textLength="32.5" lengthAdjust="spacingAndGlyphs" >12</text>
<text x="470.6" y="1338.3" font-size="35.5" text-anchor="middle" textLength="100" lengthAdjust="spacingAndGlyphs"><tspan font-style="italic">t</tspan> (Gyr)</text>
<text x="818.2" y="1282.4" font-size="35.5" text-anchor="middle" textLength="16.2" lengthAdjust="spacingAndGlyphs" >2</text>
<text x="920.1" y="1282.4" font-size="35.5" text-anchor="middle" textLength="16.2" lengthAdjust="spacingAndGlyphs" >4</text>
<text x="1022.0" y="1282.4" font-size="35.5" text-anchor="middle" textLength="16.2" lengthAdjust="spacingAndGlyphs" >6</text>
<text x="1123.9" y="1282.4" font-size="35.5" text-anchor="middle" textLength="16.2" lengthAdjust="spacingAndGlyphs" >8</text>
<text x="1225.8" y="1282.4" font-size="35.5" text-anchor="middle" textLength="32.5" lengthAdjust="spacingAndGlyphs" >10</text>
<text x="1327.7" y="1282.4" font-size="35.5" text-anchor="middle" textLength="32.5" lengthAdjust="spacingAndGlyphs" >12</text>
<text x="1120.8" y="1338.3" font-size="35.5" text-anchor="middle" textLength="100" lengthAdjust="spacingAndGlyphs"><tspan font-style="italic">t</tspan> (Gyr)</text>
<text x="1576.6" y="1282.4" font-size="35.5" text-anchor="middle" textLength="16.2" lengthAdjust="spacingAndGlyphs" >3</text>
<text x="1674.3" y="1282.4" font-size="35.5" text-anchor="middle" textLength="16.2" lengthAdjust="spacingAndGlyphs" >4</text>
<text x="1772.1" y="1282.4" font-size="35.5" text-anchor="middle" textLength="16.2" lengthAdjust="spacingAndGlyphs" >5</text>
<text x="1869.9" y="1282.4" font-size="35.5" text-anchor="middle" textLength="16.2" lengthAdjust="spacingAndGlyphs" >6</text>
<text x="1967.7" y="1282.4" font-size="35.5" text-anchor="middle" textLength="16.2" lengthAdjust="spacingAndGlyphs" >7</text>
<text x="2065.5" y="1282.4" font-size="35.5" text-anchor="middle" textLength="16.2" lengthAdjust="spacingAndGlyphs" >8</text>
<text x="2163.3" y="1282.4" font-size="35.5" text-anchor="middle" textLength="16.2" lengthAdjust="spacingAndGlyphs" >9</text>
<text x="1859.7" y="1338.3" font-size="35.5" text-anchor="middle" textLength="100" lengthAdjust="spacingAndGlyphs"><tspan font-style="italic">t</tspan> (Gyr)</text>
<text transform="translate(29,307) rotate(-90)" font-size="35.5" text-anchor="middle" textLength="152" lengthAdjust="spacingAndGlyphs"><tspan font-style="italic">r</tspan> (<tspan font-style="italic">h</tspan><tspan font-size="25" dy="-13">−1</tspan><tspan dy="13">kpc)</tspan></text>
<text transform="translate(29,941) rotate(-90)" font-size="35.5" text-anchor="middle" textLength="233" lengthAdjust="spacingAndGlyphs"><tspan font-style="italic">v</tspan><tspan font-size="25" dy="6">r</tspan><tspan dy="-6"> (</tspan><tspan font-style="italic">h</tspan><tspan font-size="25" dy="-13">−1</tspan><tspan dy="13">kpc/Gyr)</tspan></text>
<text x="198.5" y="66.6" font-size="40" text-anchor="start" textLength="182" lengthAdjust="spacingAndGlyphs" >Large halo,</text>
<text x="198.5" y="113.6" font-size="40" text-anchor="start" textLength="138" lengthAdjust="spacingAndGlyphs" >particles</text>
<text x="848.5" y="66.6" font-size="40" text-anchor="start" textLength="182" lengthAdjust="spacingAndGlyphs" >Large halo,</text>
<text x="848.5" y="113.6" font-size="40" text-anchor="start" textLength="141" lengthAdjust="spacingAndGlyphs" >subhalos</text>
<text x="1587.5" y="66.6" font-size="40" text-anchor="start" textLength="182" lengthAdjust="spacingAndGlyphs" >Small halo,</text>
<text x="1587.5" y="113.6" font-size="40" text-anchor="start" textLength="138" lengthAdjust="spacingAndGlyphs" >particles</text>
<text x="2066" y="58.7" font-size="29.2" font-style="italic" textLength="20.5" lengthAdjust="spacingAndGlyphs">R</text>
<text x="2088" y="63.5" font-size="18.5" textLength="45.5" lengthAdjust="spacingAndGlyphs">200m</text>
</g>
<path d="M1984 53.2H2042" stroke="#000" stroke-width="4.8" stroke-dasharray="15 14" fill="none"/>
</svg></body></html>
